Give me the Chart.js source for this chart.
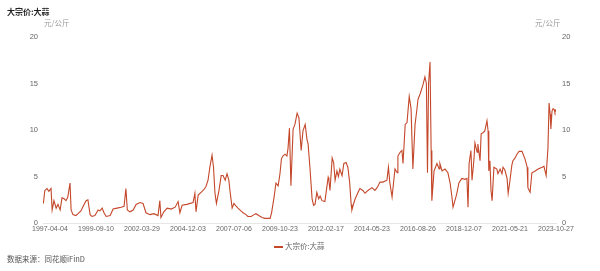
<!DOCTYPE html>
<html>
<head>
<meta charset="utf-8">
<script src="https://cdn.jsdelivr.net/npm/chart.js@4"></script>
<style>
  body { margin: 0; background: #fff; }
  #wrap { position: relative; width: 600px; height: 271px; font-family: "Noto Sans CJK SC", "Noto Sans", sans-serif; }
  #wrap canvas { position: absolute; left: 0; top: 0; }
  .txt { position: absolute; white-space: nowrap; line-height: 1; }
  #title { left: 7px; top: 8px; font-size: 8px; font-weight: bold; color: #222; }
  .unit { top: 19px; font-size: 7.5px; color: #999; }
  #unitL { left: 44px; }
  #unitR { left: 535px; }
  #legend { left: 274px; top: 242px; font-size: 7.5px; color: #666; }
  #legend span { display: inline-block; width: 9px; height: 1.5px; background: #c4472a; vertical-align: middle; margin-right: 2px; }
  #source { left: 7px; top: 255px; font-size: 7.5px; color: #555; }
</style>
</head>
<body>
<div id="wrap">
  <canvas id="myChart" width="600" height="271"></canvas>
  <div class="txt" id="title">大宗价:大蒜</div>
  <div class="txt unit" id="unitL">元/公斤</div>
  <div class="txt unit" id="unitR">元/公斤</div>
  <div class="txt" id="legend"><span></span>大宗价:大蒜</div>
  <div class="txt" id="source">数据来源：同花顺iFinD</div>
</div>
<script>
// week index since first observation (weekly series) and price, yuan/kg
const weeks = [1, 5, 11, 16, 22, 25, 30, 36, 41, 47, 52, 58, 63, 68, 74, 77, 82, 90, 96, 104,
  110, 118, 123, 129, 134, 142, 151, 156, 162, 167, 173, 184, 192, 203, 214, 222, 227, 231, 238, 247,
  255, 266, 274, 282, 293, 304, 315, 320, 323, 331, 340, 351, 362, 370, 375, 381, 394, 411, 416, 419,
  425, 433, 441, 446, 452, 457, 463, 467, 471, 475, 482, 488, 493, 499, 504, 509, 512, 518, 523, 529,
  534, 542, 548, 556, 561, 570, 578, 583, 591, 600, 608, 616, 622, 626, 633, 638, 644, 649, 653, 657,
  663, 668, 671, 675, 679, 685, 690, 696, 701, 707, 712, 718, 723, 726, 731, 737, 741, 745, 750, 755,
  759, 764, 772, 781, 783, 786, 792, 796, 800, 805, 809, 813, 819, 824, 830, 835, 840, 844, 846, 851,
  855, 863, 868, 876, 882, 890, 901, 909, 915, 923, 931, 942, 946, 950, 956, 964, 970, 972, 978, 983,
  986, 992, 997, 1003, 1008, 1013, 1019, 1024, 1027, 1033, 1041, 1046, 1050, 1053, 1056, 1060, 1063, 1065, 1071, 1079,
  1085, 1087, 1093, 1101, 1109, 1115, 1120, 1123, 1131, 1134, 1139, 1147, 1156, 1161, 1164, 1167, 1172, 1175, 1180, 1183,
  1189, 1191, 1197, 1200, 1205, 1210, 1216, 1219, 1221, 1224, 1227, 1230, 1232, 1235, 1243, 1246, 1252, 1257, 1260, 1265,
  1271, 1274, 1279, 1284, 1287, 1293, 1298, 1304, 1312, 1315, 1320, 1326, 1328, 1334, 1339, 1348, 1356, 1367, 1372, 1378,
  1383, 1386, 1389, 1391, 1394, 1397, 1400, 1402, 1405];

const prices = [2.1, 3.5, 3.7, 3.4, 3.7, 1.4, 2.4, 1.6, 2.0, 1.4, 2.7, 2.6, 2.4, 2.8, 4.3, 1.4, 0.9, 0.8, 1.0, 1.3,
  1.8, 2.4, 2.5, 0.9, 0.7, 0.8, 1.4, 1.3, 1.6, 1.1, 0.7, 0.8, 1.5, 1.6, 1.7, 1.8, 3.7, 1.4, 1.2, 1.4,
  2.0, 2.2, 2.1, 1.1, 0.9, 1.0, 0.8, 2.4, 0.6, 1.2, 1.6, 1.5, 1.7, 2.3, 1.1, 1.9, 2.0, 2.2, 3.2, 1.2,
  3.0, 3.3, 3.6, 3.9, 4.6, 6.0, 7.3, 6.0, 3.2, 2.1, 3.5, 5.1, 5.1, 4.6, 5.3, 4.6, 3.5, 1.6, 2.1, 1.8,
  1.6, 1.3, 1.1, 0.9, 0.7, 0.7, 0.9, 1.0, 0.8, 0.6, 0.5, 0.5, 0.5, 1.1, 2.8, 4.3, 4.0, 5.3, 6.9, 7.2,
  7.4, 7.2, 8.0, 10.2, 4.0, 10.1, 10.6, 11.8, 11.3, 7.8, 9.9, 10.6, 9.0, 8.5, 6.0, 2.6, 1.9, 2.0, 3.3, 2.6,
  2.9, 2.4, 2.3, 4.9, 4.6, 3.5, 7.0, 6.5, 4.6, 5.6, 5.0, 5.8, 5.1, 6.4, 6.5, 6.0, 4.3, 2.0, 1.4, 2.1,
  2.6, 3.3, 3.7, 3.5, 3.2, 3.5, 3.8, 3.5, 3.8, 4.4, 4.4, 4.6, 6.0, 4.3, 2.8, 5.8, 5.4, 7.2, 7.6, 7.8,
  6.4, 10.6, 10.8, 13.6, 12.3, 5.8, 10.6, 12.2, 13.3, 13.9, 14.9, 15.7, 15.0, 5.4, 15.0, 17.3, 7.8, 2.4, 5.6, 6.4,
  5.8, 6.4, 5.6, 5.8, 5.4, 4.3, 2.8, 1.7, 2.8, 3.3, 4.3, 4.8, 4.7, 4.8, 1.7, 6.4, 7.8, 4.6, 6.7, 8.6,
  7.6, 8.5, 6.7, 9.6, 9.7, 9.9, 11.0, 9.9, 5.6, 6.7, 3.5, 2.4, 2.4, 6.0, 5.8, 5.3, 5.8, 5.3, 6.0, 5.7,
  4.8, 3.2, 4.6, 6.2, 6.7, 7.0, 7.4, 7.7, 7.7, 7.4, 6.9, 6.0, 3.8, 3.3, 5.4, 5.6, 5.8, 6.0, 6.1, 5.1,
  8.1, 12.9, 11.7, 10.1, 12.0, 12.3, 12.2, 11.9, 12.2];

// x-axis labels every 126 weeks, first one 19 weeks after the start
const tickLabels = ['1997-04-04', '1999-09-10', '2002-03-29', '2004-12-03', '2007-07-06', '2009-10-23',
  '2012-02-17', '2014-05-23', '2016-08-26', '2018-12-07', '2021-05-21', '2023-10-27'];
const tickWeeks = [19, 145, 271, 397, 523, 649, 775, 901, 1027, 1153, 1279, 1405];

const points = weeks.map((w, i) => ({ x: w, y: prices[i] }));

const tickFont = { family: 'Liberation Sans', size: 7 };
const yFont = { family: 'Liberation Sans', size: 7.5 };

var ctx = document.getElementById('myChart').getContext('2d');
var myChart = new Chart(ctx, {
  type: 'line',
  data: {
    datasets: [{
      label: '大宗价:大蒜',
      data: points,
      borderColor: '#c4472a',
      borderWidth: 1.1,
      pointRadius: 0,
      tension: 0,
      yAxisID: 'y'
    }]
  },
  options: {
    responsive: false,
    animation: false,
    layout: { padding: { top: 37, bottom: 34, left: 0, right: 0 } },
    plugins: { legend: { display: false }, tooltip: { enabled: false } },
    scales: {
      x: {
        type: 'linear',
        min: 0,
        max: 1405,
        grid: { display: false, drawTicks: false },
        border: { display: true, color: '#e6e6e6' },
        afterBuildTicks: axis => { axis.ticks = tickWeeks.map(v => ({ value: v })); },
        afterFit: axis => { axis.height = 14; },
        ticks: {
          autoSkip: false,
          maxRotation: 0,
          padding: 2,
          color: '#666',
          font: tickFont,
          callback: (v) => tickLabels[tickWeeks.indexOf(v)]
        }
      },
      y: {
        position: 'left',
        min: 0,
        max: 20,
        grid: { display: false, drawTicks: false },
        border: { display: false },
        afterFit: axis => { axis.width = 43; },
        ticks: { stepSize: 5, color: '#666', font: yFont, padding: 5 }
      },
      y2: {
        position: 'right',
        min: 0,
        max: 20,
        grid: { display: false, drawTicks: false },
        border: { display: false },
        afterFit: axis => { axis.width = 44; },
        ticks: { stepSize: 5, color: '#666', font: yFont, padding: 6 }
      }
    }
  }
});
</script>
</body>
</html>
